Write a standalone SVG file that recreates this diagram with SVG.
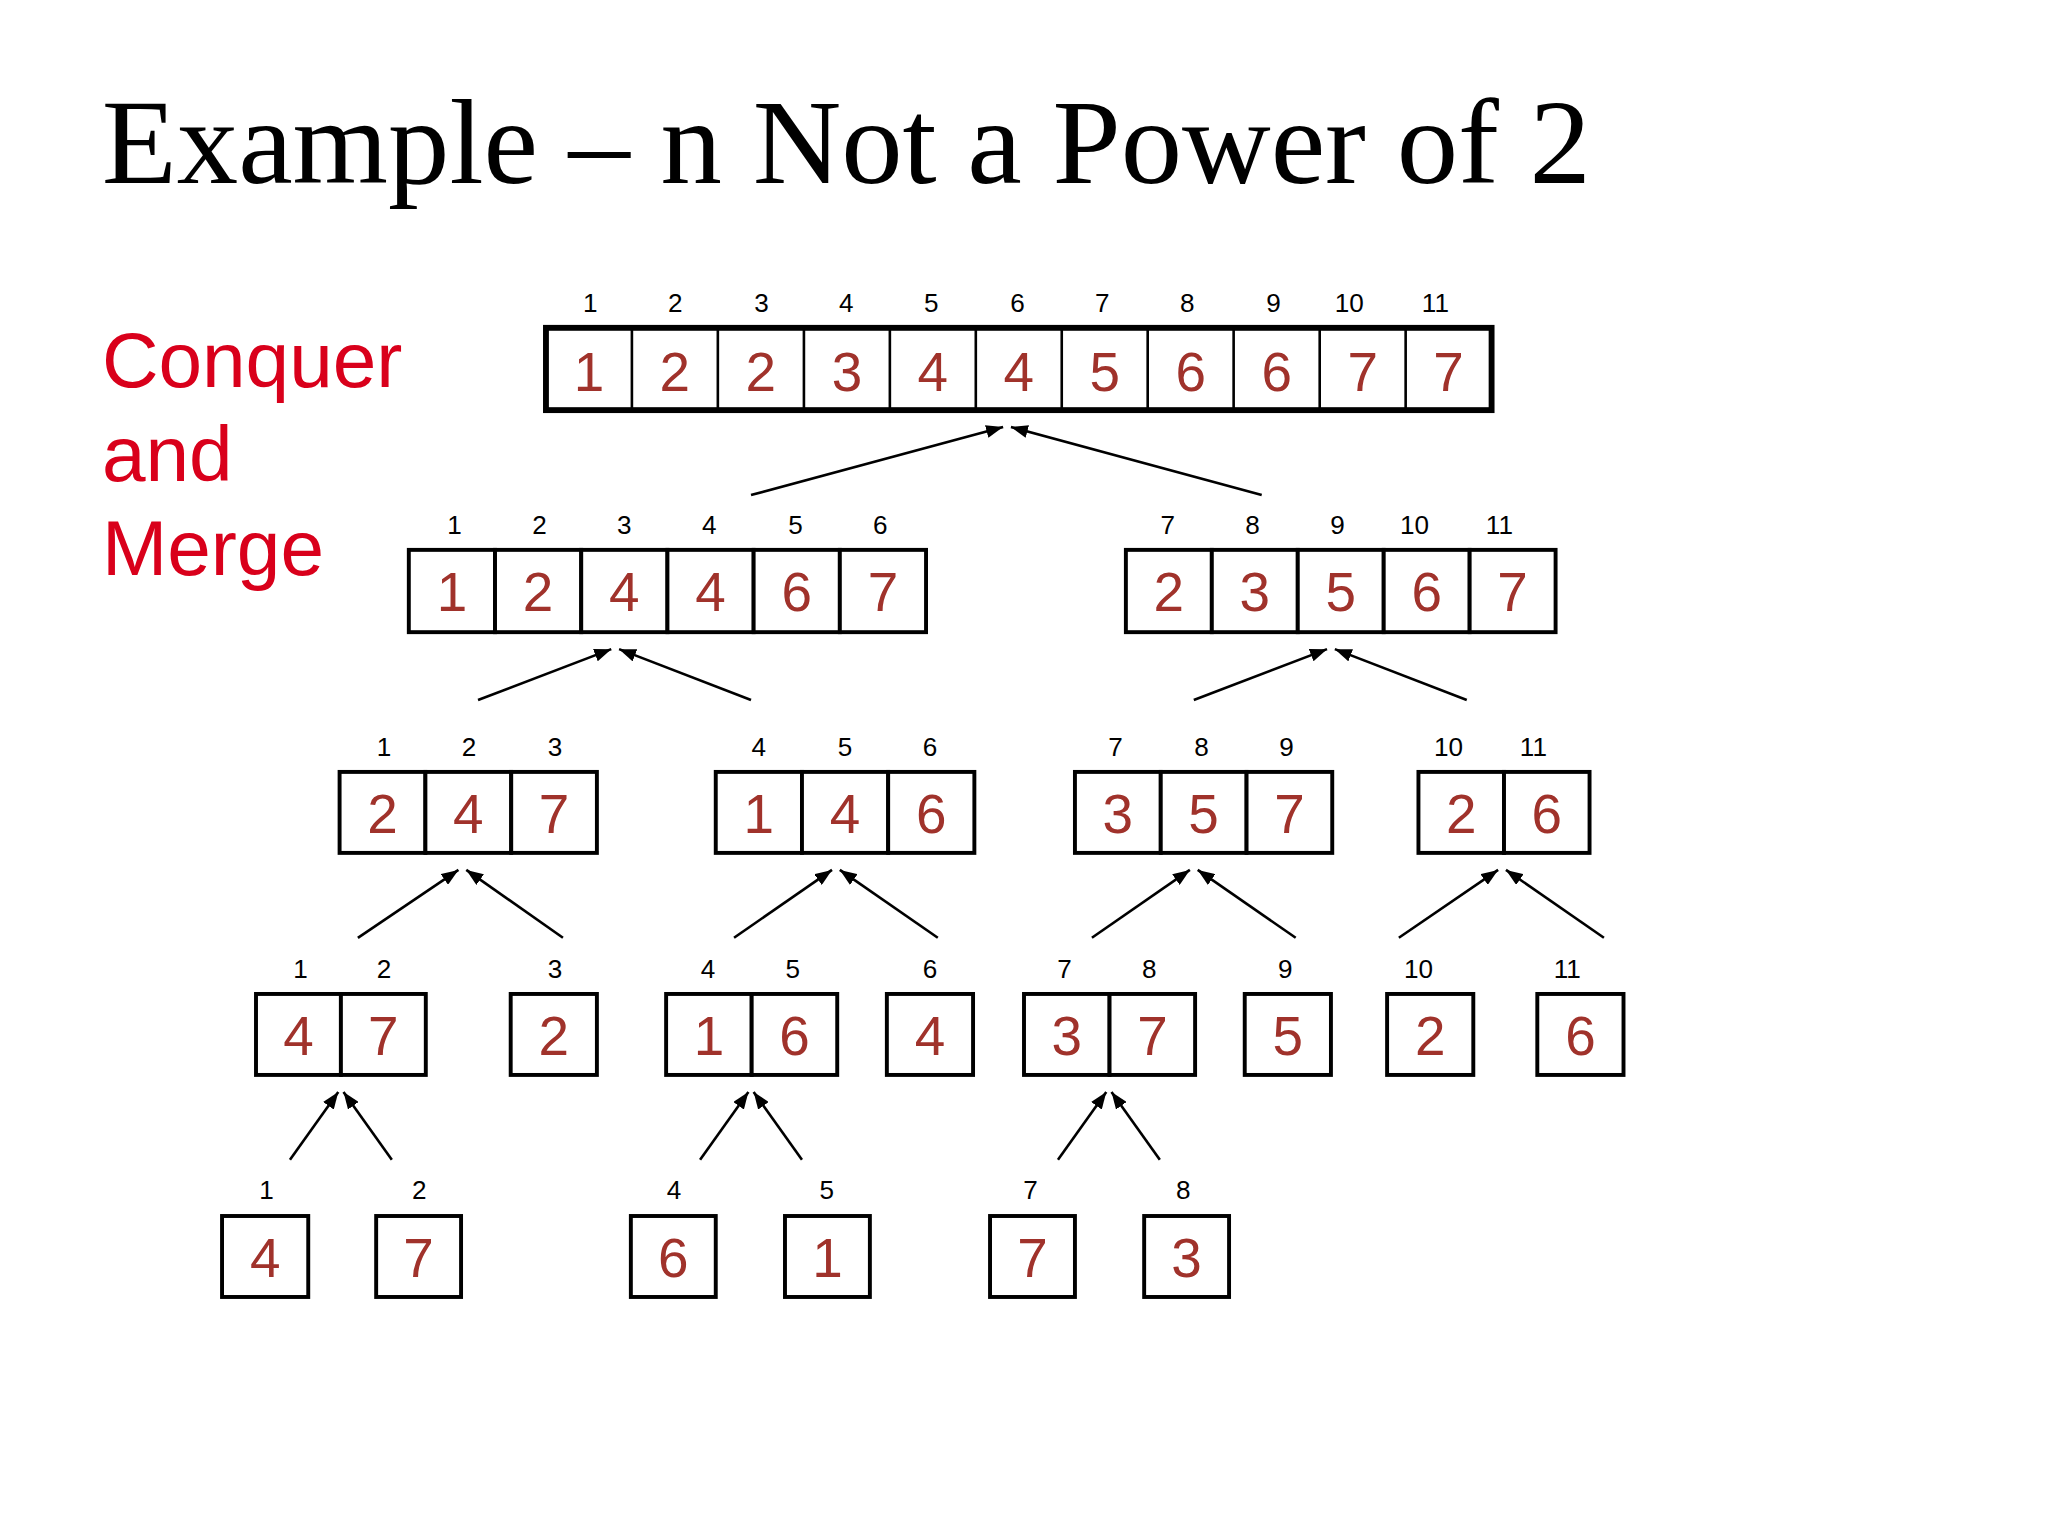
<svg xmlns="http://www.w3.org/2000/svg" width="2048" height="1536" viewBox="0 0 2048 1536">
<defs>
<style>
.title{font-family:"Liberation Serif","Times New Roman",serif;font-size:92px;fill:#000}
.red{font-family:"Liberation Sans",Arial,sans-serif;font-size:60px;fill:#D9001B}
.val{font-family:"Liberation Sans",Arial,sans-serif;font-size:42px;fill:#A0322B;text-anchor:middle}
.idx{font-family:"Liberation Sans",Arial,sans-serif;font-size:20px;fill:#000;text-anchor:middle}
.cell{fill:#fff;stroke:#000;stroke-width:3}
.outer{fill:none;stroke:#000;stroke-width:4.5}
.div{stroke:#000;stroke-width:2}
.conn{stroke:#000;stroke-width:2;fill:none;marker-end:url(#ah)}
</style>
<marker id="ah" markerUnits="userSpaceOnUse" markerWidth="13" markerHeight="10" refX="13" refY="5" orient="auto" viewBox="0 0 13 10">
<path d="M0,0 L13,5 L0,10 z" fill="#000"/>
</marker>
</defs>
<rect x="0" y="0" width="2048" height="1536" fill="#fff"/>
<g transform="scale(1.306122)">
<text class="title" x="78" y="140" textLength="1140" lengthAdjust="spacingAndGlyphs">Example – n Not a Power of 2</text>
<g id="caption">
<text class="red" x="78" y="296">Conquer</text>
<text class="red" x="78" y="368">and</text>
<text class="red" x="78" y="440">Merge</text>
</g>

<g id="top-array">
<rect x="418" y="251" width="724" height="63" fill="#fff"/>
<line class="div" x1="483.8" y1="251" x2="483.8" y2="314"/>
<line class="div" x1="549.6" y1="251" x2="549.6" y2="314"/>
<line class="div" x1="615.5" y1="251" x2="615.5" y2="314"/>
<line class="div" x1="681.3" y1="251" x2="681.3" y2="314"/>
<line class="div" x1="747.1" y1="251" x2="747.1" y2="314"/>
<line class="div" x1="812.9" y1="251" x2="812.9" y2="314"/>
<line class="div" x1="878.7" y1="251" x2="878.7" y2="314"/>
<line class="div" x1="944.5" y1="251" x2="944.5" y2="314"/>
<line class="div" x1="1010.4" y1="251" x2="1010.4" y2="314"/>
<line class="div" x1="1076.2" y1="251" x2="1076.2" y2="314"/>
<rect class="outer" x="418" y="251" width="724" height="63"/>
<text class="idx" x="452" y="239">1</text><text class="idx" x="517" y="239">2</text><text class="idx" x="583" y="239">3</text><text class="idx" x="648" y="239">4</text><text class="idx" x="713" y="239">5</text><text class="idx" x="779" y="239">6</text><text class="idx" x="844" y="239">7</text><text class="idx" x="909" y="239">8</text><text class="idx" x="975" y="239">9</text><text class="idx" x="1033" y="239">10</text><text class="idx" x="1099" y="239">11</text>
<text class="val" x="450.9" y="299">1</text><text class="val" x="516.7" y="299">2</text><text class="val" x="582.5" y="299">2</text><text class="val" x="648.4" y="299">3</text><text class="val" x="714.2" y="299">4</text><text class="val" x="780" y="299">4</text><text class="val" x="845.8" y="299">5</text><text class="val" x="911.6" y="299">6</text><text class="val" x="977.5" y="299">6</text><text class="val" x="1043.3" y="299">7</text><text class="val" x="1109.1" y="299">7</text>
</g>

<g id="l2-left">
<rect class="cell" x="313" y="421" width="66" height="63"/><rect class="cell" x="379" y="421" width="66" height="63"/><rect class="cell" x="445" y="421" width="66" height="63"/><rect class="cell" x="511" y="421" width="66" height="63"/><rect class="cell" x="577" y="421" width="66" height="63"/><rect class="cell" x="643" y="421" width="66" height="63"/>
<text class="idx" x="348" y="409">1</text><text class="idx" x="413" y="409">2</text><text class="idx" x="478" y="409">3</text><text class="idx" x="543" y="409">4</text><text class="idx" x="609" y="409">5</text><text class="idx" x="674" y="409">6</text>
<text class="val" x="346" y="468">1</text><text class="val" x="412" y="468">2</text><text class="val" x="478" y="468">4</text><text class="val" x="544" y="468">4</text><text class="val" x="610" y="468">6</text><text class="val" x="676" y="468">7</text>
</g>
<g id="l2-right">
<rect class="cell" x="862" y="421" width="65.8" height="63"/><rect class="cell" x="927.8" y="421" width="65.8" height="63"/><rect class="cell" x="993.6" y="421" width="65.8" height="63"/><rect class="cell" x="1059.4" y="421" width="65.8" height="63"/><rect class="cell" x="1125.2" y="421" width="65.8" height="63"/>
<text class="idx" x="894" y="409">7</text><text class="idx" x="959" y="409">8</text><text class="idx" x="1024" y="409">9</text><text class="idx" x="1083" y="409">10</text><text class="idx" x="1148" y="409">11</text>
<text class="val" x="894.9" y="468">2</text><text class="val" x="960.7" y="468">3</text><text class="val" x="1026.5" y="468">5</text><text class="val" x="1092.3" y="468">6</text><text class="val" x="1158.1" y="468">7</text>
</g>

<g id="l3-a">
<rect class="cell" x="260" y="591" width="65.7" height="62"/><rect class="cell" x="325.7" y="591" width="65.7" height="62"/><rect class="cell" x="391.4" y="591" width="65.6" height="62"/>
<text class="idx" x="294" y="579">1</text><text class="idx" x="359" y="579">2</text><text class="idx" x="425" y="579">3</text>
<text class="val" x="292.8" y="638">2</text><text class="val" x="358.5" y="638">4</text><text class="val" x="424.2" y="638">7</text>
</g>
<g id="l3-b">
<rect class="cell" x="548" y="591" width="66" height="62"/><rect class="cell" x="614" y="591" width="66" height="62"/><rect class="cell" x="680" y="591" width="66" height="62"/>
<text class="idx" x="581" y="579">4</text><text class="idx" x="647" y="579">5</text><text class="idx" x="712" y="579">6</text>
<text class="val" x="581" y="638">1</text><text class="val" x="647" y="638">4</text><text class="val" x="713" y="638">6</text>
</g>
<g id="l3-c">
<rect class="cell" x="823" y="591" width="65.7" height="62"/><rect class="cell" x="888.7" y="591" width="65.7" height="62"/><rect class="cell" x="954.4" y="591" width="65.6" height="62"/>
<text class="idx" x="854" y="579">7</text><text class="idx" x="920" y="579">8</text><text class="idx" x="985" y="579">9</text>
<text class="val" x="855.8" y="638">3</text><text class="val" x="921.5" y="638">5</text><text class="val" x="987.2" y="638">7</text>
</g>
<g id="l3-d">
<rect class="cell" x="1086" y="591" width="65.5" height="62"/><rect class="cell" x="1151.5" y="591" width="65.5" height="62"/>
<text class="idx" x="1109" y="579">10</text><text class="idx" x="1174" y="579">11</text>
<text class="val" x="1118.8" y="638">2</text><text class="val" x="1184.3" y="638">6</text>
</g>

<g id="l4-a">
<rect class="cell" x="196" y="761" width="65" height="62"/><rect class="cell" x="261" y="761" width="65" height="62"/>
<text class="idx" x="230" y="749">1</text><text class="idx" x="294" y="749">2</text>
<text class="val" x="228.5" y="808">4</text><text class="val" x="293.5" y="808">7</text>
</g>
<g id="l4-b">
<rect class="cell" x="391" y="761" width="66" height="62"/>
<text class="idx" x="425" y="749">3</text>
<text class="val" x="424" y="808">2</text>
</g>
<g id="l4-c">
<rect class="cell" x="510" y="761" width="65.5" height="62"/><rect class="cell" x="575.5" y="761" width="65.5" height="62"/>
<text class="idx" x="542" y="749">4</text><text class="idx" x="607" y="749">5</text>
<text class="val" x="542.8" y="808">1</text><text class="val" x="608.3" y="808">6</text>
</g>
<g id="l4-d">
<rect class="cell" x="679" y="761" width="66" height="62"/>
<text class="idx" x="712" y="749">6</text>
<text class="val" x="712" y="808">4</text>
</g>
<g id="l4-e">
<rect class="cell" x="784" y="761" width="65.5" height="62"/><rect class="cell" x="849.5" y="761" width="65.5" height="62"/>
<text class="idx" x="815" y="749">7</text><text class="idx" x="880" y="749">8</text>
<text class="val" x="816.8" y="808">3</text><text class="val" x="882.3" y="808">7</text>
</g>
<g id="l4-f">
<rect class="cell" x="953" y="761" width="66" height="62"/>
<text class="idx" x="984" y="749">9</text>
<text class="val" x="986" y="808">5</text>
</g>
<g id="l4-g">
<rect class="cell" x="1062" y="761" width="66" height="62"/>
<text class="idx" x="1086" y="749">10</text>
<text class="val" x="1095" y="808">2</text>
</g>
<g id="l4-h">
<rect class="cell" x="1177" y="761" width="66" height="62"/>
<text class="idx" x="1200" y="749">11</text>
<text class="val" x="1210" y="808">6</text>
</g>

<g id="l5-a"><rect class="cell" x="170" y="931" width="66" height="62"/><text class="idx" x="204" y="918">1</text><text class="val" x="203" y="978">4</text></g>
<g id="l5-b"><rect class="cell" x="288" y="931" width="65" height="62"/><text class="idx" x="321" y="918">2</text><text class="val" x="320.5" y="978">7</text></g>
<g id="l5-c"><rect class="cell" x="483" y="931" width="65" height="62"/><text class="idx" x="516" y="918">4</text><text class="val" x="515.5" y="978">6</text></g>
<g id="l5-d"><rect class="cell" x="601" y="931" width="65" height="62"/><text class="idx" x="633" y="918">5</text><text class="val" x="633.5" y="978">1</text></g>
<g id="l5-e"><rect class="cell" x="758" y="931" width="65" height="62"/><text class="idx" x="789" y="918">7</text><text class="val" x="790.5" y="978">7</text></g>
<g id="l5-f"><rect class="cell" x="876" y="931" width="65" height="62"/><text class="idx" x="906" y="918">8</text><text class="val" x="908.5" y="978">3</text></g>

<g id="connectors">
<line class="conn" x1="575" y1="379" x2="768" y2="327"/>
<line class="conn" x1="966" y1="379" x2="774" y2="327"/>
<line class="conn" x1="366" y1="536" x2="468" y2="497"/>
<line class="conn" x1="575" y1="536" x2="474" y2="497"/>
<line class="conn" x1="914" y1="536" x2="1016" y2="497"/>
<line class="conn" x1="1123" y1="536" x2="1022" y2="497"/>
<line class="conn" x1="274" y1="718" x2="351" y2="666"/>
<line class="conn" x1="431" y1="718" x2="357" y2="666"/>
<line class="conn" x1="562" y1="718" x2="637" y2="666"/>
<line class="conn" x1="718" y1="718" x2="643" y2="666"/>
<line class="conn" x1="836" y1="718" x2="911" y2="666"/>
<line class="conn" x1="992" y1="718" x2="917" y2="666"/>
<line class="conn" x1="1071" y1="718" x2="1147" y2="666"/>
<line class="conn" x1="1228" y1="718" x2="1153" y2="666"/>
<line class="conn" x1="222" y1="888" x2="259" y2="836"/>
<line class="conn" x1="300" y1="888" x2="263" y2="836"/>
<line class="conn" x1="536" y1="888" x2="573" y2="836"/>
<line class="conn" x1="614" y1="888" x2="577" y2="836"/>
<line class="conn" x1="810" y1="888" x2="847" y2="836"/>
<line class="conn" x1="888" y1="888" x2="851" y2="836"/>
</g>
</g>
</svg>
